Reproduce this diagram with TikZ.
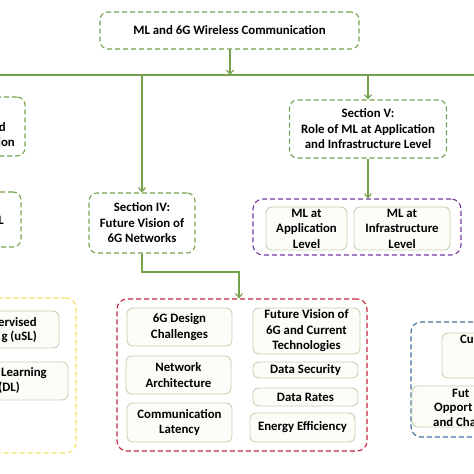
\documentclass[tikz,border=0pt]{standalone}
\usepackage{fontspec}
\setmainfont{Carlito}
\usetikzlibrary{arrows,arrows.meta,positioning}

\definecolor{secgreen}{RGB}{118,162,78}
\definecolor{itemline}{RGB}{198,212,178}
\definecolor{itemfill}{RGB}{252,253,248}
\definecolor{mlpurple}{RGB}{118,60,160}
\definecolor{visred}{RGB}{204,36,64}
\definecolor{lrnyellow}{RGB}{244,226,96}
\definecolor{futblue}{RGB}{62,112,160}

\begin{document}
\begin{tikzpicture}[x=1pt,y=-1pt,
    every node/.style={font=\fontsize{12.8}{15.5}\selectfont\bfseries, inner sep=0pt},
    sec/.style={draw=secgreen, dash pattern=on 5pt off 3pt, line width=1.1pt,
                rounded corners=8pt, align=center},
    group/.style={dash pattern=on 5pt off 3pt, line width=1.1pt, rounded corners=10pt},
    item/.style={draw=itemline, fill=itemfill, line width=0.9pt, rounded corners=6pt,
                 align=center},
    link/.style={draw=secgreen, line width=1.2pt},
    >={Straight Barb[length=4pt,width=7pt]}]
    \fill[white] (0,0) rectangle (474,474);
    \useasboundingbox (0,0) rectangle (474,474);
    \clip (0,0) rectangle (474,474);

    % sections
    \node[sec, minimum width=259pt, minimum height=37pt] (top) at (229.5,30.5)
        {ML and 6G Wireless Communication};
    \node[sec, minimum width=115pt, minimum height=59pt] (secL1) at (-32.5,126.5) {};
    \node[anchor=east] (secL1a) at (6,127) {d};
    \node[anchor=east] (secL1b) at (15,142) {ion};
    \node[sec, minimum width=110pt, minimum height=55pt] (secL2) at (-34,219.5) {};
    \node[anchor=east] (secL2a) at (4,220) {L};
    \node[sec, minimum width=106pt, minimum height=60pt] (secIV) at (142,223)
        {Section IV:\\Future Vision of\\6G Networks};
    \node[sec, minimum width=157pt, minimum height=58pt] (secV) at (368,129)
        {Section V:\\Role of ML at Application\\and Infrastructure Level};

    % bus
    \coordinate (busL) at (-5,75);
    \coordinate (busR) at (480,75);
    \coordinate (topout) at (230,49);
    \draw[link] (busL) -- (busR);
    \draw[link,->] (topout) -- (topout |- busL);
    \draw[link,->] (secIV.north |- busL) -- (secIV.north);
    \draw[link,->] (secV.north |- busL) -- (secV.north);

    % ML levels
    \node[group, draw=mlpurple, minimum width=208pt, minimum height=56pt] (mlbox) at (357,227) {};
    \node[item, minimum width=81pt, minimum height=43pt] (mlapp) at (306.5,228.5)
        {ML at\\Application\\Level};
    \node[item, minimum width=96pt, minimum height=43pt] (mlinf) at (402,228.5)
        {ML at\\Infrastructure\\Level};
    \draw[link,->] (secV.south) -- (secV.south |- mlbox.north);

    % future vision
    \node[group, draw=visred, minimum width=250pt, minimum height=152pt] (visbox) at (242,375) {};
    \node[item, minimum width=105pt, minimum height=38pt] (design) at (179.5,327)
        {6G Design\\Challenges};
    \node[item, minimum width=105pt, minimum height=38pt] (netarch) at (178.5,375)
        {Network\\Architecture};
    \node[item, minimum width=105pt, minimum height=39pt] (latency) at (179.5,422.5)
        {Communication\\Latency};
    \node[item, minimum width=107pt, minimum height=46pt] (fvcur) at (306.5,331)
        {Future Vision of\\6G and Current\\Technologies};
    \node[item, minimum width=105pt, minimum height=16pt] (security) at (305.5,370) {Data Security};
    \node[item, minimum width=105pt, minimum height=18pt] (rates) at (305.5,397) {Data Rates};
    \node[item, minimum width=105pt, minimum height=29pt] (energy) at (302.5,427.5) {Energy Efficiency};
    \coordinate (visin) at (239,272);
    \draw[link,->] (secIV.south) |- (visin) -- (visin |- visbox.north);

    % learning (left)
    \node[group, draw=lrnyellow, minimum width=120pt, minimum height=155pt] (lrnbox) at (16,375.5) {};
    \node[item, minimum width=100pt, minimum height=37pt] (usl) at (9,329.5) {};
    \node[anchor=east] (usla) at (37,322) {ervised};
    \node[anchor=east] (uslb) at (37,337) {g (uSL)};
    \node[item, minimum width=100pt, minimum height=38pt] (dl) at (18,381) {};
    \node[anchor=east] (dla) at (47,373) {Learning};
    \node[anchor=east] (dlb) at (20,388) {(DL)};

    % future directions (right)
    \node[group, draw=futblue, minimum width=120pt, minimum height=115pt] (futbox) at (471,379.5) {};
    \node[item, minimum width=100pt, minimum height=45pt] (cur) at (492,355.5) {};
    \node[anchor=west] (cura) at (460,339) {Cu};
    \node[item, minimum width=110pt, minimum height=41pt] (fut) at (467,406.5) {};
    \node[anchor=west] (futa) at (452,393) {Fut};
    \node[anchor=west] (futb) at (434,408) {Opport};
    \node[anchor=west] (futc) at (433,422) {and Cha};
\end{tikzpicture}
\end{document}
